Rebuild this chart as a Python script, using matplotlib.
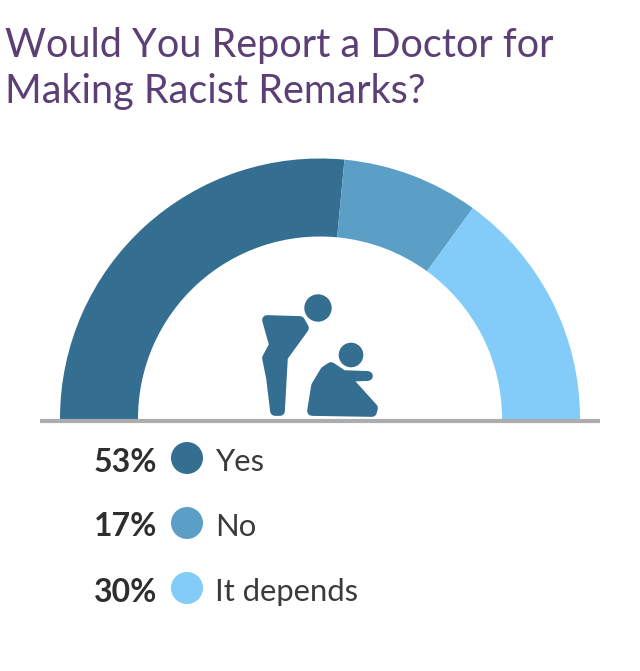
import matplotlib
matplotlib.use('Agg')
import matplotlib.pyplot as plt
from matplotlib.patches import Circle, Polygon

title = 'Would You Report a Doctor for\nMaking Racist Remarks?'
labels = ['Yes', 'No', 'It depends']
values = [53, 17, 30]
colors = ['#346E90', '#5C9FC6', '#83CBF8']
purple = '#5B3F75'

plt.rcParams['font.family'] = ['Lato', 'DejaVu Sans']

W, H = 640, 671
fig = plt.figure(figsize=(W / 100, H / 100), dpi=100)

# main axes in pixel coordinates, y pointing down
ax = fig.add_axes([0, 0, 1, 1])
ax.set_xlim(0, W)
ax.set_ylim(H, 0)
ax.axis('off')

ax.text(5, 57, title.split('\n')[0], fontsize=28.5, color=purple, va='baseline', ha='left')
ax.text(5, 103, title.split('\n')[1], fontsize=28.5, color=purple, va='baseline', ha='left')

# half donut, the hidden half fills the bottom
pie_ax = fig.add_axes([60 / W, 1 - (418.5 + 260) / H, 520 / W, 520 / H])
hidden = sum(values)
wedges, _ = pie_ax.pie(values + [hidden], colors=colors + ['none'], startangle=180,
                       counterclock=False, radius=1.0,
                       wedgeprops=dict(width=0.3, linewidth=0))
pie_ax.set_xlim(-1, 1)
pie_ax.set_ylim(-1, 1)
pie_ax.patch.set_alpha(0)

# stub under the ring closes the gap down to the baseline
ax.set_zorder(2)
for x0, x1, col in [(60, 138, colors[0]), (502, 580, colors[2])]:
    ax.fill_between([x0, x1], 417, 420, color=col, lw=0)
ax.plot([40, 600], [420.5, 420.5], color='#ADADAD', lw=3, solid_capstyle='butt')

# icon: bending figure and seated figure, thick round stroke softens the corners
c = colors[0]
soft = dict(closed=True, facecolor=c, edgecolor=c, lw=7, joinstyle='round')
ax.add_patch(Circle((318, 308), 13.7, color=c, lw=0))
ax.add_patch(Polygon([(267, 320), (300, 321), (304, 328), (283, 357), (280, 411), (275, 411),
                      (271, 378), (267, 358), (274, 345)], **soft))
ax.add_patch(Circle((351, 355), 12.3, color=c, lw=0))
ax.add_patch(Polygon([(312, 411), (316, 386), (325, 371), (331, 367), (343, 375), (368, 376),
                      (368, 376), (345, 377), (373, 408), (372, 412)], **soft))

# legend rows
rows_y = [459, 524, 589]
for y, v, lab, col in zip(rows_y, values, labels, colors):
    ax.text(157, y + 3, f'{v}%', fontsize=23, fontweight='bold', color='#2E2E2E',
            ha='right', va='center')
    ax.add_patch(Circle((187, y - 1), 16, color=col, lw=0))
    ax.text(215, y + 3, lab, fontsize=22.3, color='#3A3A3A', ha='left', va='center')

fig.savefig('out.png', dpi=100)
